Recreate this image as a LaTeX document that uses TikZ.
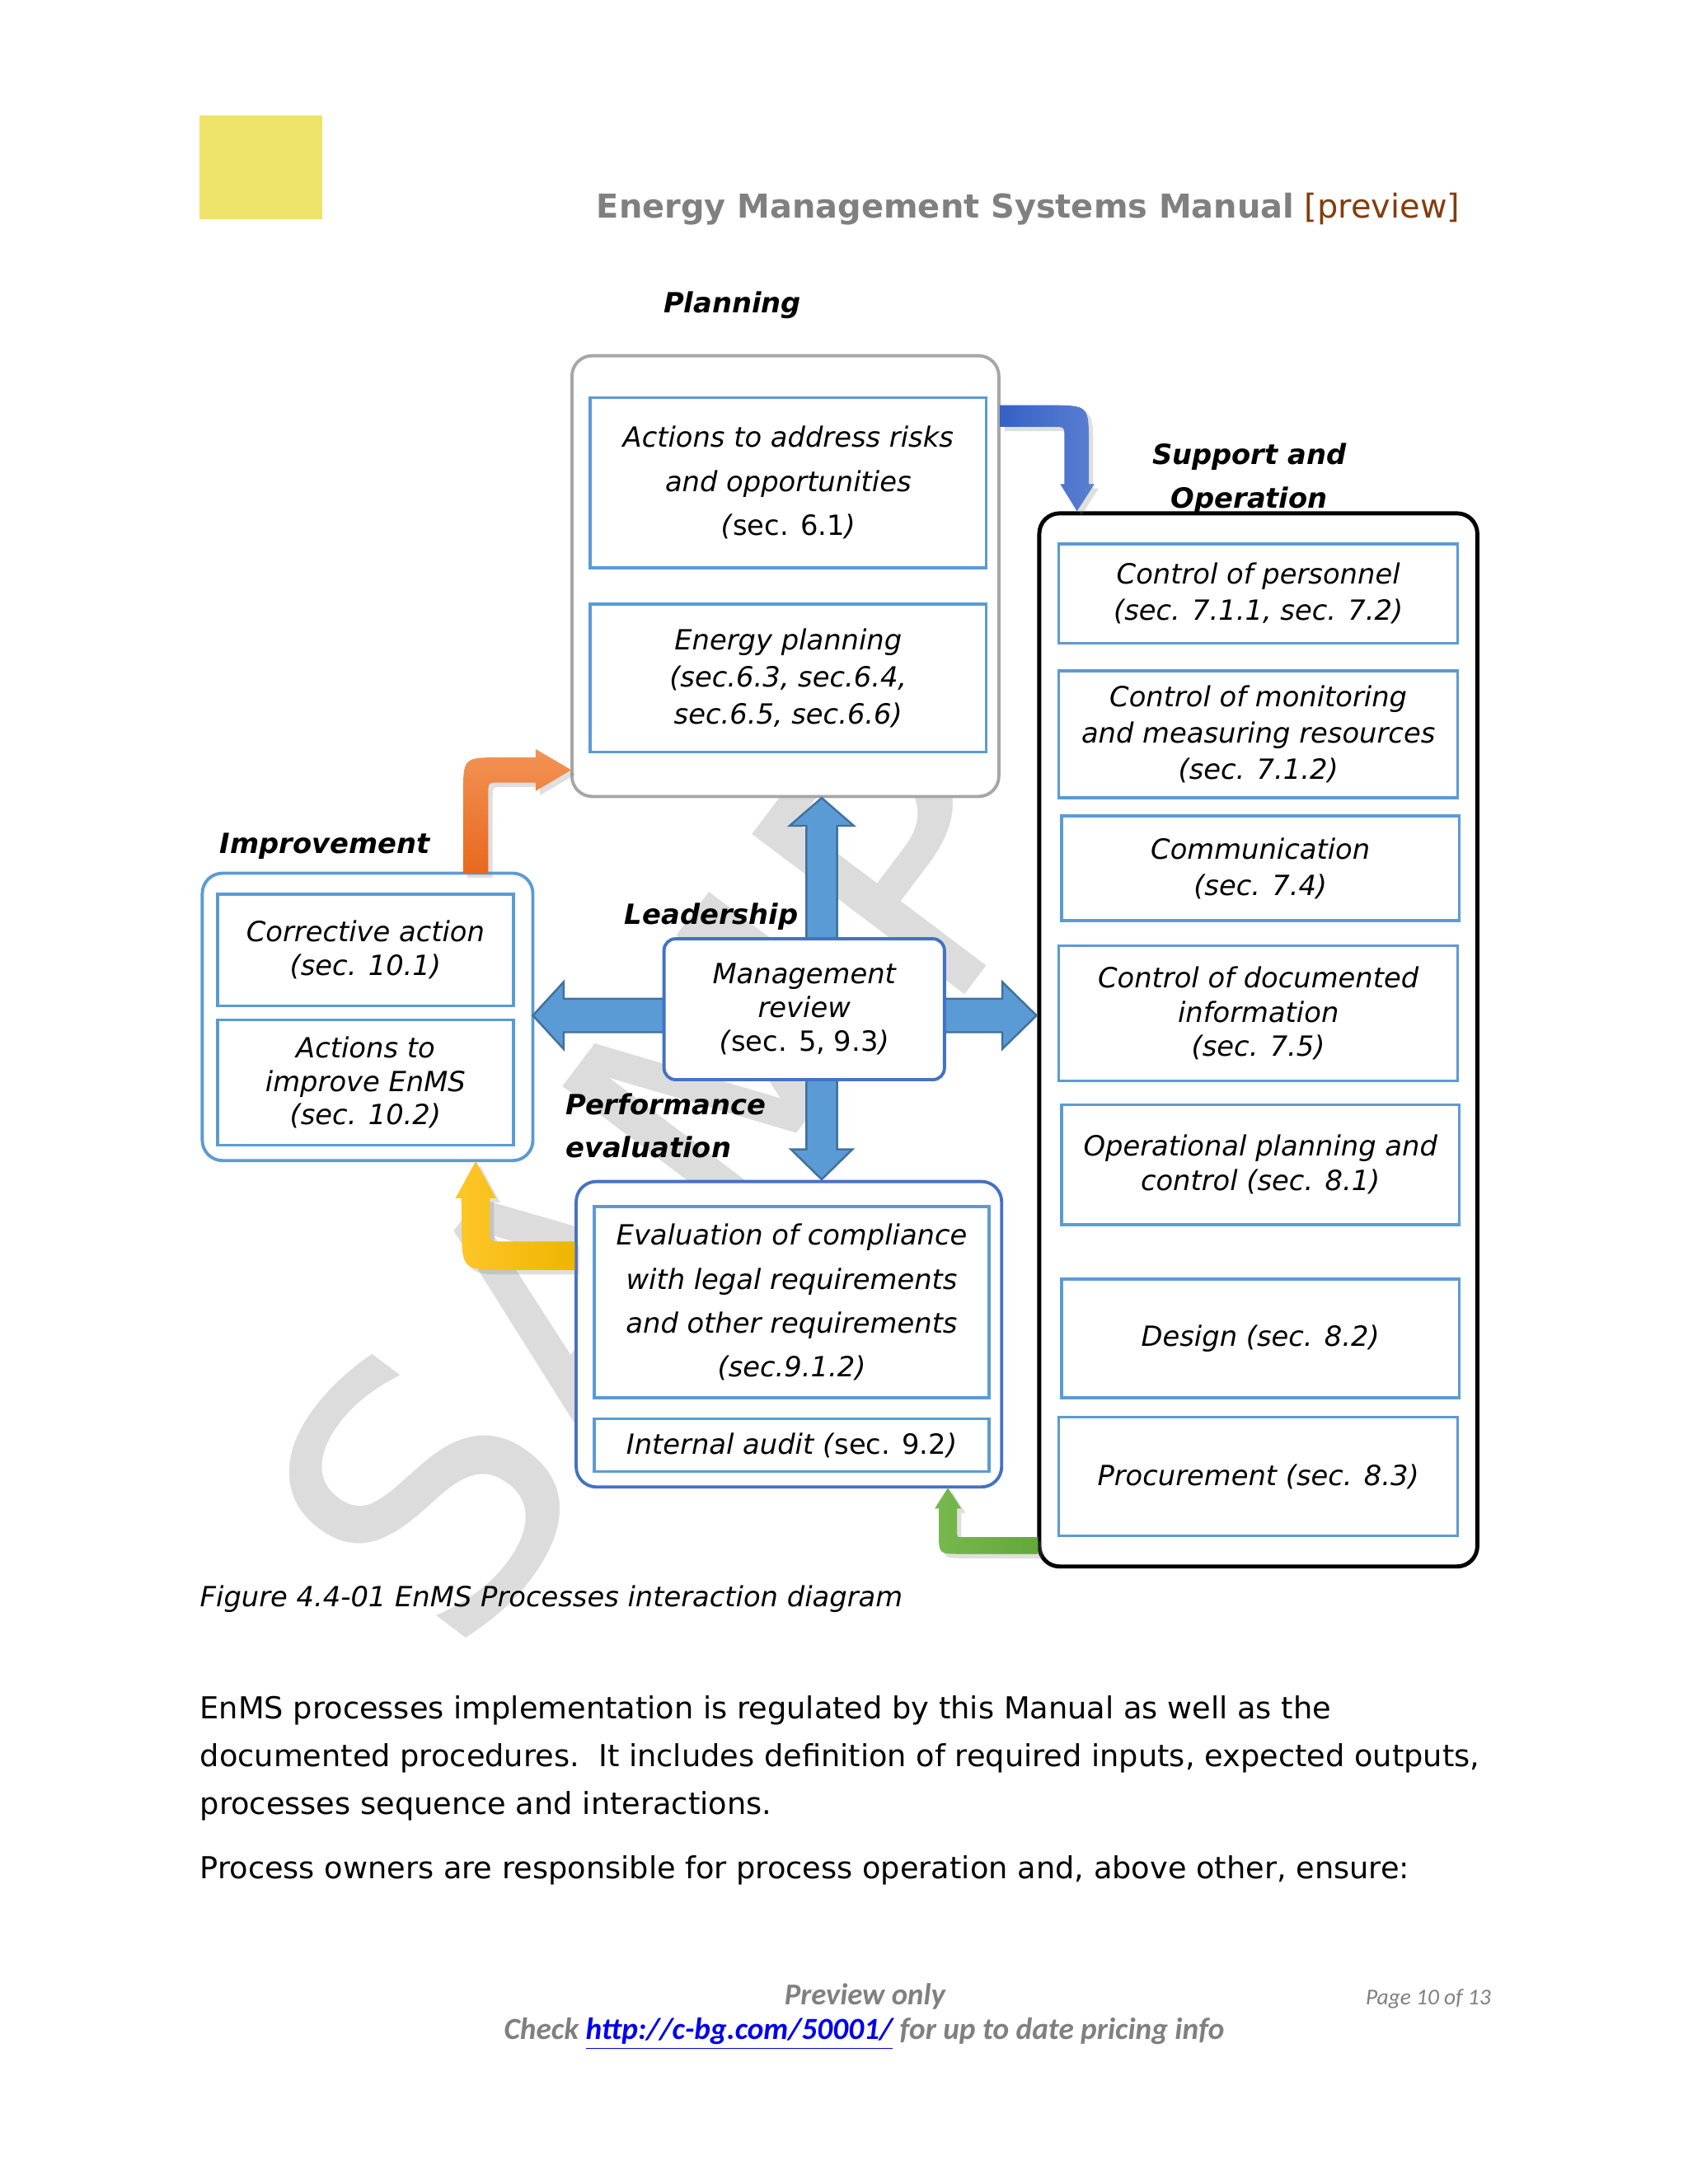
\documentclass[tikz,border=0pt]{standalone}
\usepackage{fontspec}
\setmainfont{DejaVu Sans}[BoldFont={DejaVu Sans Bold},ItalicFont={DejaVu Sans Oblique},BoldItalicFont={DejaVu Sans Bold Oblique}]
\newfontfamily\calfont{Carlito}
\usetikzlibrary{shadows}
\definecolor{ibord}{HTML}{5B9BD5}
\definecolor{dblue}{HTML}{4472C4}
\definecolor{xfill}{HTML}{5B9BD5}
\definecolor{xbord}{HTML}{41719C}
\definecolor{wm}{HTML}{DCDCDC}
\definecolor{hdrgray}{HTML}{808080}
\definecolor{prevbrown}{HTML}{843C0C}
\definecolor{yelsq}{HTML}{EEE46A}
\definecolor{planborder}{HTML}{A6A6A6}
\definecolor{linkblue}{HTML}{0000EE}
\definecolor{blA}{HTML}{3660C6}
\definecolor{blB}{HTML}{5A80D2}
\definecolor{orA}{HTML}{F29355}
\definecolor{orB}{HTML}{E8681E}
\definecolor{yeA}{HTML}{FFC62A}
\definecolor{yeB}{HTML}{EDB600}
\definecolor{grA}{HTML}{78B84E}
\definecolor{grB}{HTML}{62A83A}
\begin{document}
\begin{tikzpicture}[x=0.016926cm, y=-0.016926cm,
  rect/.style n args={4}{minimum width={(#3-#1)*0.016926cm}, minimum height={(#4-#2)*0.016926cm},
     at={({(#1+#3)/2},{(#2+#4)/2})}},
  ibox/.style={draw=ibord, line width=1pt, fill=white, inner sep=0pt, align=center},
  txt/.style={font=\itshape\fontsize{9.6pt}{#1}\selectfont},
  obox/.style={fill=white, inner sep=0pt, rounded corners=#1},
  lbl/.style={inner sep=0pt, font=\bfseries\itshape\fontsize{9.6pt}{15pt}\selectfont},
  xarrow/.style={fill=xfill, draw=xbord, line width=0.7pt, line join=miter},
  bshadow/.style={drop shadow={opacity=0.25, shadow xshift=1.5pt, shadow yshift=-1.5pt}},
  bodytxt/.style={anchor=west, inner sep=0pt, font=\fontsize{10.45pt}{16pt}\selectfont}
]
\useasboundingbox (0,0) rectangle (1210,1565.7);
\fill[white] (0,0) rectangle (1210,1565.7);

% watermark
\begin{scope}
\clip (0,556) rectangle (1210,1565.7);
\node[rotate=53, text=wm, inner sep=0pt, font=\fontsize{126pt}{126pt}\selectfont] (wmk) at (568,719) {SAMPLE};
\end{scope}

% header
\fill[yelsq] (143,83) rectangle (231,157);
\node[anchor=east, inner sep=0pt, font=\fontsize{11.35pt}{13pt}\selectfont] (hdr) at (1047,150)
  {{\bfseries\color{hdrgray}Energy Management Systems Manual} {\color{prevbrown}[preview]}};

% outer boxes
\node[obox=7pt, draw=planborder, line width=1.1pt, rect={410}{255}{716}{571}] (plan) {};
\node[obox=7pt, draw=black, line width=1.4pt, rect={745}{368}{1059}{1123}] (supp) {};
\node[obox=7pt, draw=ibord, line width=1.1pt, rect={145}{626}{382}{832}] (impr) {};
\node[obox=7pt, draw=dblue, line width=1.1pt, rect={413}{847}{718}{1066}] (perf) {};

% inner boxes: planning
\node[ibox, txt=15.2pt, rect={423}{285}{707}{407}] (pa) {Actions to address risks\\and opportunities\\(\textup{sec. 6.1})};
\node[ibox, txt=12.8pt, rect={423}{433}{707}{539}] (pb) {Energy planning\\(sec.6.3, sec.6.4,\\sec.6.5, sec.6.6)};

% support and operation
\node[ibox, txt=12.5pt, rect={759}{390}{1045}{461}] (s1) {Control of personnel\\(sec. 7.1.1, sec. 7.2)};
\node[ibox, txt=12.5pt, rect={759}{481}{1045}{572}] (s2) {Control of monitoring\\and measuring resources\\(sec. 7.1.2)};
\node[ibox, txt=12.5pt, rect={761}{585}{1046}{660}] (s3) {Communication\\(sec. 7.4)};
\node[ibox, txt=11.8pt, rect={759}{678}{1045}{775}] (s4) {Control of documented\\information\\(sec. 7.5)};
\node[ibox, txt=12pt, rect={761}{792}{1046}{878}] (s5) {Operational planning and\\control (sec. 8.1)};
\node[ibox, txt=12pt, rect={761}{917}{1046}{1002}] (s6) {Design (sec. 8.2)};
\node[ibox, txt=12pt, rect={759}{1016}{1045}{1101}] (s7) {Procurement (sec. 8.3)};

% improvement
\node[ibox, txt=11.6pt, rect={156}{641}{368}{721}] (i1) {Corrective action\\(sec. 10.1)};
\node[ibox, txt=11.6pt, rect={156}{731}{368}{821}] (i2) {Actions to\\improve EnMS\\(sec. 10.2)};

% performance evaluation
\node[ibox, txt=15.1pt, rect={426}{865}{709}{1002}] (e1) {Evaluation of compliance\\with legal requirements\\and other requirements\\(sec.9.1.2)};
\node[ibox, txt=12pt, rect={426}{1017}{709}{1055}] (e2) {Internal audit (\textup{sec. 9.2})};

% leadership cross arrows
\path[xarrow] (578,728) -- (578,592) -- (566,592) -- (589,572) -- (612,592) -- (600,592)
  -- (600,824) -- (611,824) -- (589,845.5) -- (567,824) -- (578,824) -- cycle;
\path[xarrow] (589,716) -- (718.5,716) -- (718.5,704) -- (743,728) -- (718.5,752) -- (718.5,740)
  -- (404,740) -- (404,752) -- (382,728) -- (404,704) -- (404,716) -- cycle;

% management review
\node[obox=4pt, draw=dblue, line width=1.1pt, align=center, txt=11.6pt, rect={476}{673}{677}{774}] (mr)
  {Management\\review\\(\textup{sec. 5, 9.3})};

% bent arrows
\path[bshadow, left color=blA, right color=blB] (717,290.5) -- (752,290.5) .. controls (780.5,290.5) .. (780.5,318)
  -- (780.5,347) -- (784.5,347) -- (772,366.5) -- (760,347) -- (763,347) -- (763,314)
  .. controls (763,306) .. (755,306) -- (717,306) -- cycle;
\path[bshadow, top color=orA, bottom color=orB] (332,626) -- (332,570) .. controls (332,543) .. (359,543)
  -- (384,543) -- (384,537) -- (409.5,552) -- (384,567) -- (384,561) -- (358,561)
  .. controls (350,561) .. (350,569) -- (350,626) -- cycle;
\path[bshadow, left color=yeA, right color=yeB] (412,890) -- (359,890) .. controls (351,890) .. (351,882)
  -- (351,859) -- (355.5,859) -- (341,832.5) -- (326.5,859) -- (331,859) -- (331,878)
  .. controls (331,910.5) .. (363,910.5) -- (412,910.5) -- cycle;
\path[bshadow, left color=grA, right color=grB] (744,1102) -- (690,1102) .. controls (686,1102) .. (686,1098)
  -- (686,1081.5) -- (689,1081.5) -- (679.5,1066.6) -- (670,1081.5) -- (673,1081.5) -- (673,1099)
  .. controls (673,1114) .. (688,1114) -- (744,1114) -- cycle;

% labels
\node[lbl] (lplan) at (525,218.5) {Planning};
\node[lbl, align=center] (lsupp) at (895.5,343) {Support and\\Operation};
\node[lbl] (limpr) at (233,606.5) {Improvement};
\node[lbl] (llead) at (510,657) {Leadership};
\node[lbl, align=left, anchor=west] (lperf) at (405,807) {Performance\\evaluation};

% caption and body
\node[anchor=west, inner sep=0pt, font=\itshape\fontsize{9.6pt}{12pt}\selectfont] (cap) at (143,1146.5)
  {Figure 4.4-01 EnMS Processes interaction diagram};
\node[bodytxt] (b1) at (143,1226) {EnMS processes implementation is regulated by this Manual as well as the};
\node[bodytxt] (b2) at (143,1260.5) {documented procedures.\ \ It includes definition of required inputs, expected outputs,};
\node[bodytxt] (b3) at (143,1295) {processes sequence and interactions.};
\node[bodytxt] (b4) at (143,1341) {Process owners are responsible for process operation and, above other, ensure:};

% footer
\node[inner sep=0pt, text=hdrgray, font=\calfont\bfseries\itshape\fontsize{10.45pt}{12pt}\selectfont] (f1) at (620,1431) {Preview only};
\node[inner sep=0pt, text=hdrgray, font=\calfont\bfseries\itshape\fontsize{10.6pt}{12pt}\selectfont] (f2) at (619.5,1458)
  {Check \textcolor{linkblue}{\underline{http://c-bg.com/50001/}} for up to date pricing info};
\node[anchor=east, inner sep=0pt, text=hdrgray, font=\calfont\itshape\fontsize{7.8pt}{10pt}\selectfont] (pg) at (1069,1433) {Page 10 of 13};
\end{tikzpicture}
\end{document}
